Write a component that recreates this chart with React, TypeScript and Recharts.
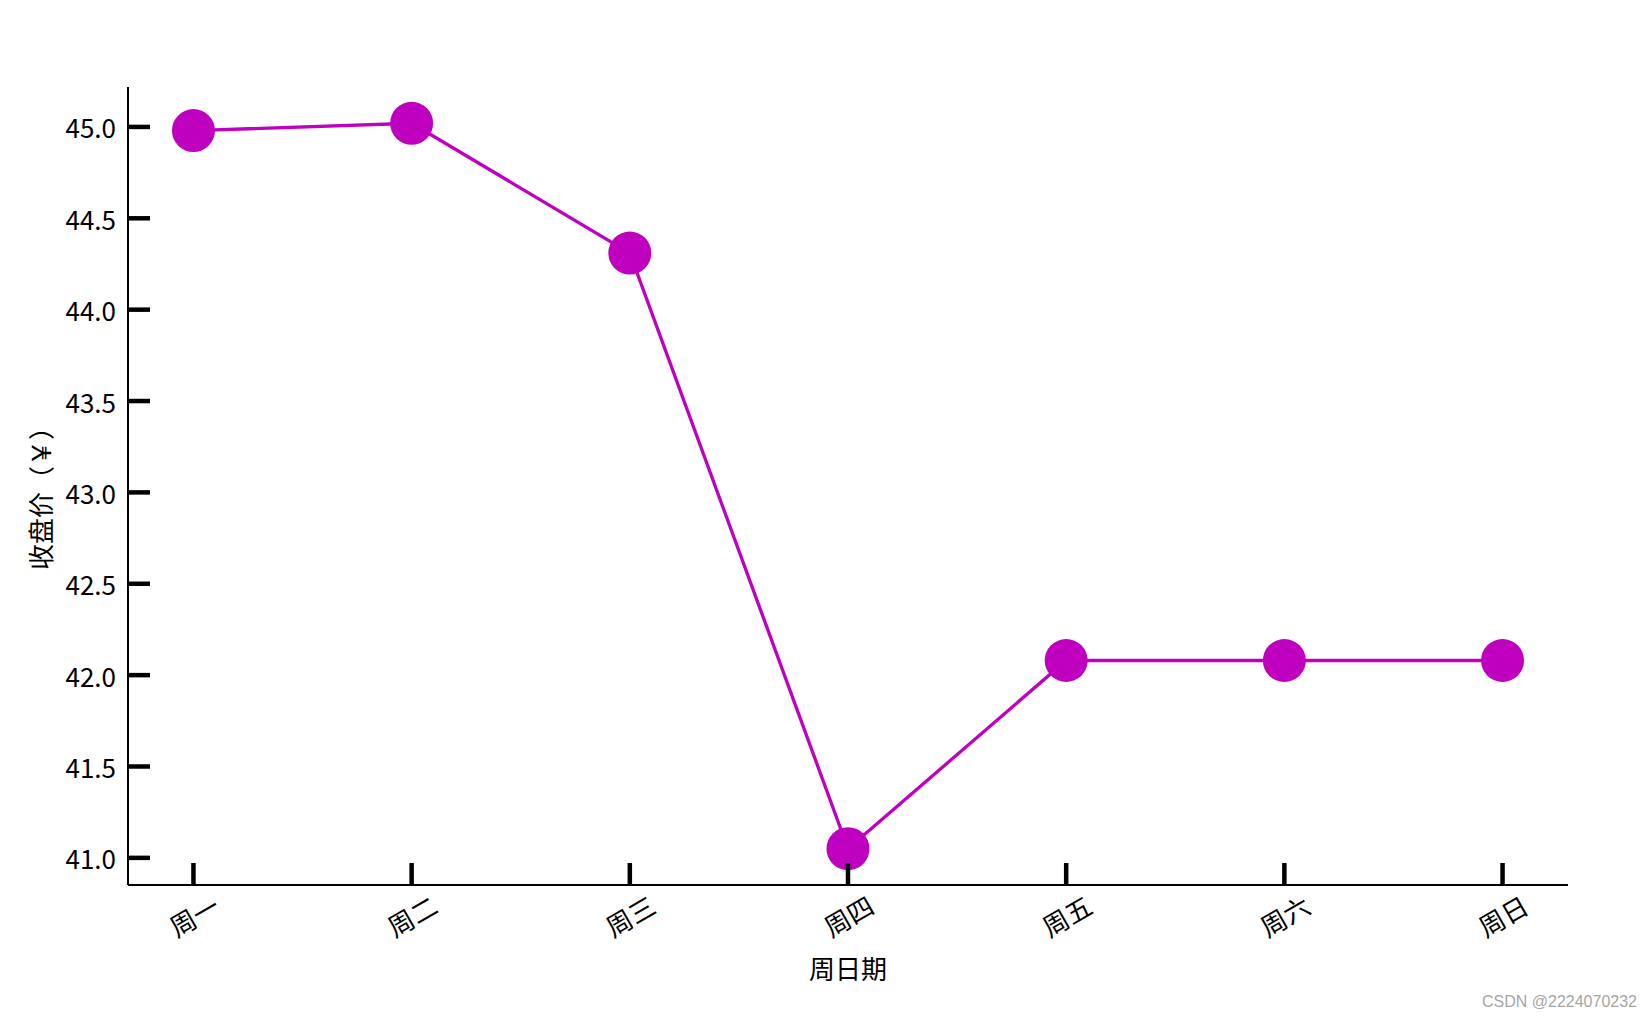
import React from 'react';
import { LineChart, Line, XAxis, YAxis, Label } from 'recharts';

const days = ['周一', '周二', '周三', '周四', '周五', '周六', '周日'];
const closePrices = [44.98, 45.02, 44.31, 41.05, 42.08, 42.08, 42.08];
const dayTicks = [0, 1, 2, 3, 4, 5, 6];
const priceTicks = [41, 41.5, 42, 42.5, 43, 43.5, 44, 44.5, 45];

const FONT = '"Noto Sans CJK SC", "Noto Sans", sans-serif';
const MAGENTA = '#BF00BF';

const data = days.map((day, i) => ({ idx: i, day, price: closePrices[i] }));

const YTick = (props: any) => {
  const { x, y, payload } = props;
  return (
    <g>
      <line x1={x + 12} y1={y} x2={x + 34} y2={y} stroke="#000" strokeWidth={4.5} />
      <text x={x} y={y} textAnchor="end" dominantBaseline="central" fontSize={26} fontFamily={FONT} fill="#000">
        {Number(payload.value).toFixed(1)}
      </text>
    </g>
  );
};

const XTick = (props: any) => {
  const { x, y, payload } = props;
  const cy = y + 30;
  return (
    <g>
      <line x1={x} y1={y} x2={x} y2={y - 22} stroke="#000" strokeWidth={4.5} />
      <text
        x={x}
        y={cy}
        textAnchor="middle"
        dominantBaseline="central"
        fontSize={26}
        fontFamily={FONT}
        fill="#000"
        transform={`rotate(-30, ${x}, ${cy})`}
      >
        {days[payload.value]}
      </text>
    </g>
  );
};

export default function App() {
  return (
    <div style={{ position: 'absolute', left: 0, top: 0, width: 1652, height: 1019, background: '#fff' }}>
      <LineChart width={1652} height={1019} data={data} margin={{ top: 87, right: 84, left: 0, bottom: 0 }}>
        <XAxis
          dataKey="idx"
          type="number"
          domain={[-0.3, 6.3]}
          ticks={dayTicks}
          interval={0}
          height={134}
          tickSize={0}
          tickMargin={0}
          tick={<XTick />}
          axisLine={{ stroke: '#000', strokeWidth: 2 }}
        >
          <Label
            content={({ viewBox }: any) => (
              <text
                x={viewBox.x + viewBox.width / 2}
                y={967}
                textAnchor="middle"
                dominantBaseline="central"
                fontSize={26}
                fontFamily={FONT}
                fill="#000"
              >
                周日期
              </text>
            )}
          />
        </XAxis>
        <YAxis
          type="number"
          domain={[40.8515, 45.2185]}
          ticks={priceTicks}
          interval={0}
          allowDataOverflow
          width={128}
          tickSize={0}
          tickMargin={12}
          tick={<YTick />}
          axisLine={{ stroke: '#000', strokeWidth: 2 }}
        >
          <Label
            content={({ viewBox }: any) => (
              <text
                x={39}
                y={viewBox.y + viewBox.height / 2 + 6}
                textAnchor="middle"
                dominantBaseline="central"
                fontSize={26}
                fontFamily={FONT}
                fill="#000"
                transform={`rotate(-90, 39, ${viewBox.y + viewBox.height / 2 + 6})`}
              >
                收盘价（￥）
              </text>
            )}
          />
        </YAxis>
        <Line
          type="linear"
          dataKey="price"
          stroke={MAGENTA}
          strokeWidth={3.3}
          dot={{ r: 21.5, fill: MAGENTA, stroke: 'none' }}
          activeDot={false}
          isAnimationActive={false}
        />
      </LineChart>
      <div
        style={{
          position: 'absolute',
          right: 15,
          top: 992,
          fontFamily: '"Liberation Sans", Arial, sans-serif',
          fontSize: 16,
          color: '#a6a6a6',
          lineHeight: '20px',
        }}
      >
        CSDN @2224070232
      </div>
    </div>
  );
}
